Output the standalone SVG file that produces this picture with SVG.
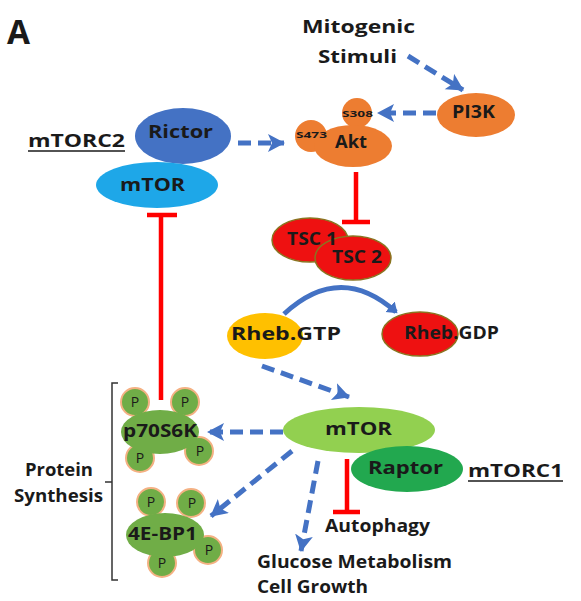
<svg xmlns="http://www.w3.org/2000/svg" width="581" height="601" viewBox="0 0 581 601">
<defs>
<marker id="ah" markerUnits="userSpaceOnUse" markerWidth="22" markerHeight="22" refX="16" refY="9" orient="auto">
<path d="M0,0 L17,9 L0,18 L4,9 z" fill="#4472c4"/>
</marker>
<marker id="ah2" markerUnits="userSpaceOnUse" markerWidth="16" markerHeight="16" refX="8" refY="8" orient="auto">
<path d="M0,1 L10,8 L0,15 z" fill="#4472c4"/>
</marker>
</defs>
<style>
text{font-family:"Open Sans","Liberation Sans",Arial,sans-serif;font-weight:700;fill:#1a1a1a;}
.t{font-size:18px;}
.s{font-size:9px;}
.p{font-size:14px;font-weight:400;}
.da{fill:none;stroke:#4472c4;stroke-width:5;stroke-dasharray:13 7;marker-end:url(#ah);}
.inh{fill:none;stroke:#ff0000;stroke-width:4.5;}
.org{fill:#ed7d31;}
.ph{fill:#70ad47;stroke:#f4b183;stroke-width:2;}
.red{fill:#ee1111;stroke:#8a7420;stroke-width:1.5;}
.ul{stroke:#1a1a1a;stroke-width:1.6;}
</style>
<rect width="581" height="601" fill="#ffffff"/>
<text x="7" y="44" style="font-size:34px" textLength="23" lengthAdjust="spacingAndGlyphs">A</text>

<g id="connectors">
<path class="da" d="M408,56 L463,90"/>
<path class="da" d="M436,113 L378,113"/>
<path class="da" d="M238,143 L284,143"/>
<path class="da" d="M262,366 L349,397"/>
<path class="da" d="M283,432 L208,432"/>
<path class="da" d="M292,451 L211,516"/>
<path class="da" d="M318,461 L301,551"/>
<path d="M284,314 Q340,262 396,312" fill="none" stroke="#4472c4" stroke-width="5" marker-end="url(#ah2)"/>
<path class="inh" d="M356,172 L356,222 M342,222 L370,222"/>
<path class="inh" d="M161,400 L161,215 M147,215 L177,215"/>
<path class="inh" d="M347,459 L347,512 M333,512 L360,512"/>
</g>

<g id="mitogenic">
<text class="t" x="302" y="33" textLength="113" lengthAdjust="spacingAndGlyphs">Mitogenic</text>
<text class="t" x="318" y="63" textLength="79" lengthAdjust="spacingAndGlyphs">Stimuli</text>
</g>

<g id="pi3k">
<ellipse class="org" cx="476" cy="115" rx="39" ry="22"/>
<text class="t" x="452" y="118" textLength="43" lengthAdjust="spacingAndGlyphs">PI3K</text>
</g>

<g id="akt">
<circle class="org" cx="357" cy="113" r="15"/>
<circle class="org" cx="311" cy="136" r="16"/>
<ellipse class="org" cx="353" cy="146" rx="39" ry="21"/>
<text class="s" x="342" y="117" textLength="31" lengthAdjust="spacingAndGlyphs">S308</text>
<text class="s" x="296" y="138" textLength="31" lengthAdjust="spacingAndGlyphs">S473</text>
<text class="t" x="335" y="148" textLength="32" lengthAdjust="spacingAndGlyphs">Akt</text>
</g>

<g id="mtorc2">
<text class="t" x="28" y="147" textLength="97" lengthAdjust="spacingAndGlyphs">mTORC2</text>
<line class="ul" x1="28" y1="151" x2="125" y2="151"/>
<ellipse cx="183" cy="136" rx="48" ry="28" fill="#4472c4"/>
<text class="t" x="148" y="138" textLength="65" lengthAdjust="spacingAndGlyphs">Rictor</text>
<ellipse cx="157" cy="185" rx="61" ry="23" fill="#1ea7e8"/>
<text class="t" x="120" y="191" textLength="65" lengthAdjust="spacingAndGlyphs">mTOR</text>
</g>

<g id="tsc">
<ellipse class="red" cx="310" cy="240" rx="38" ry="22"/>
<ellipse class="red" cx="353" cy="258" rx="38" ry="22"/>
<text class="t" x="287" y="245" textLength="50" lengthAdjust="spacingAndGlyphs">TSC 1</text>
<text class="t" x="332" y="263" textLength="50" lengthAdjust="spacingAndGlyphs">TSC 2</text>
</g>

<g id="rheb-gtp">
<ellipse cx="265" cy="336" rx="38" ry="23" fill="#ffc000"/>
<text class="t" x="231" y="340" textLength="110" lengthAdjust="spacingAndGlyphs">Rheb.GTP</text>
</g>

<g id="rheb-gdp">
<ellipse class="red" cx="420" cy="334" rx="38" ry="22"/>
<text class="t" x="404" y="339" textLength="95" lengthAdjust="spacingAndGlyphs">Rheb.GDP</text>
</g>

<g id="mtorc1">
<ellipse cx="359" cy="430" rx="76" ry="23" fill="#92d050"/>
<text class="t" x="325" y="435" textLength="67" lengthAdjust="spacingAndGlyphs">mTOR</text>
<ellipse cx="407" cy="469" rx="56" ry="23" fill="#22a84f"/>
<text class="t" x="368" y="474" textLength="75" lengthAdjust="spacingAndGlyphs">Raptor</text>
<text class="t" x="468" y="477" textLength="95" lengthAdjust="spacingAndGlyphs">mTORC1</text>
<line class="ul" x1="468" y1="481" x2="563" y2="481"/>
</g>

<g id="autophagy">
<text class="t" x="325" y="532" textLength="105" lengthAdjust="spacingAndGlyphs">Autophagy</text>
</g>

<g id="glucose">
<text class="t" x="257" y="568" textLength="195" lengthAdjust="spacingAndGlyphs">Glucose Metabolism</text>
<text class="t" x="257" y="593" textLength="111" lengthAdjust="spacingAndGlyphs">Cell Growth</text>
</g>

<g id="p70s6k">
<circle class="ph" cx="135" cy="402" r="14"/>
<circle class="ph" cx="185" cy="402" r="14"/>
<circle class="ph" cx="140" cy="458" r="14"/>
<circle class="ph" cx="199" cy="451" r="14"/>
<ellipse cx="160" cy="432" rx="39" ry="22" fill="#70ad47"/>
<text class="p" x="135" y="407" text-anchor="middle">P</text>
<text class="p" x="185" y="407" text-anchor="middle">P</text>
<text class="p" x="140" y="463" text-anchor="middle">P</text>
<text class="p" x="200" y="456" text-anchor="middle">P</text>
<text class="t" x="123" y="437" textLength="74" lengthAdjust="spacingAndGlyphs">p70S6K</text>
</g>

<g id="4ebp1">
<circle class="ph" cx="151" cy="502" r="14"/>
<circle class="ph" cx="191" cy="503" r="14"/>
<circle class="ph" cx="208" cy="550" r="14"/>
<circle class="ph" cx="162" cy="563" r="14"/>
<ellipse cx="165" cy="535" rx="39" ry="22" fill="#70ad47"/>
<text class="p" x="151" y="507" text-anchor="middle">P</text>
<text class="p" x="192" y="508" text-anchor="middle">P</text>
<text class="p" x="209" y="555" text-anchor="middle">P</text>
<text class="p" x="162" y="568" text-anchor="middle">P</text>
<text class="t" x="128" y="540" textLength="69" lengthAdjust="spacingAndGlyphs">4E-BP1</text>
</g>

<g id="protein-synthesis">
<path d="M118,383 L112,383 L112,580 L118,580 M112,482 L105,482" fill="none" stroke="#333" stroke-width="1.5"/>
<text class="t" x="25" y="476" textLength="68" lengthAdjust="spacingAndGlyphs">Protein</text>
<text class="t" x="14" y="502" textLength="89" lengthAdjust="spacingAndGlyphs">Synthesis</text>
</g>
</svg>
